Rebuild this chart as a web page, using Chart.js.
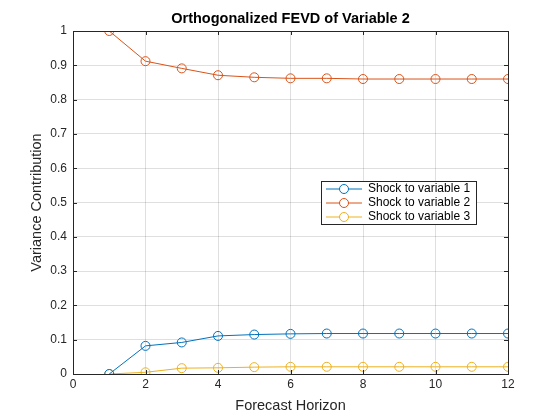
<!DOCTYPE html>
<html>
<head>
<meta charset="utf-8">
<script src="https://cdn.jsdelivr.net/npm/chart.js@4"></script>
<style>
  body { margin: 0; background: #fff; }
  #chart { display: block; }
</style>
</head>
<body>
<canvas id="chart" width="560" height="420"></canvas>
<script>
// Data
var horizons = [1, 2, 3, 4, 5, 6, 7, 8, 9, 10, 11, 12];
var shock1 = [0, 0.082, 0.092, 0.111, 0.115, 0.117, 0.118, 0.118, 0.118, 0.118, 0.118, 0.118];
var shock2 = [1, 0.912, 0.891, 0.871, 0.865, 0.862, 0.862, 0.860, 0.860, 0.860, 0.860, 0.860];
var shock3 = [0, 0.005, 0.017, 0.018, 0.020, 0.021, 0.021, 0.021, 0.021, 0.021, 0.021, 0.021];
var seriesNames = ["Shock to variable 1", "Shock to variable 2", "Shock to variable 3"];
var seriesColors = ["#0072BD", "#D95319", "#EDB120"];
var chartTitle = "Orthogonalized FEVD of Variable 2";

var FONT = "'Liberation Sans', Arial, Helvetica, sans-serif";
var AXIS = "#262626";

function toPoints(values) {
    return values.map(function (v, i) { return { x: horizons[i], y: v }; });
}

function makeDataset(i, values) {
    return {
        label: seriesNames[i],
        data: toPoints(values),
        borderColor: seriesColors[i],
        backgroundColor: "rgba(0,0,0,0)",
        borderWidth: 1,
        pointRadius: 4.5,
        pointBorderWidth: 1,
        pointBackgroundColor: "rgba(0,0,0,0)",
        pointBorderColor: seriesColors[i],
        tension: 0
    };
}

// title over the plot, box around it, inward ticks and a matlab-like legend
var matlabAxes = {
    id: "matlabAxes",
    afterDraw: function (chart) {
        var ctx = chart.ctx;
        var a = chart.chartArea;
        var xs = chart.scales.x;
        var ys = chart.scales.y;
        ctx.save();

        ctx.fillStyle = "#000";
        ctx.font = "bold 14.5px " + FONT;
        ctx.textAlign = "center";
        ctx.textBaseline = "middle";
        ctx.fillText(chartTitle, (a.left + a.right) / 2, a.top - 12);

        ctx.strokeStyle = AXIS;
        ctx.lineWidth = 1;
        ctx.strokeRect(Math.round(a.left) + 0.5, Math.round(a.top) + 0.5,
            Math.round(a.right - a.left), Math.round(a.bottom - a.top));

        ctx.beginPath();
        xs.ticks.forEach(function (t) {
            var px = Math.round(xs.getPixelForValue(t.value)) + 0.5;
            ctx.moveTo(px, a.bottom); ctx.lineTo(px, a.bottom - 4);
            ctx.moveTo(px, a.top); ctx.lineTo(px, a.top + 4);
        });
        ys.ticks.forEach(function (t) {
            var py = Math.round(ys.getPixelForValue(t.value)) + 0.5;
            ctx.moveTo(a.left, py); ctx.lineTo(a.left + 4, py);
            ctx.moveTo(a.right, py); ctx.lineTo(a.right - 4, py);
        });
        ctx.stroke();

        // legend
        var lx = 321, ly = 181, lw = 155, lh = 43, row = 14;
        ctx.fillStyle = "#fff";
        ctx.fillRect(lx, ly, lw, lh);
        ctx.strokeStyle = AXIS;
        ctx.strokeRect(lx + 0.5, ly + 0.5, lw, lh);
        ctx.font = "12px " + FONT;
        ctx.textAlign = "left";
        ctx.textBaseline = "middle";
        seriesNames.forEach(function (name, i) {
            var cy = ly + 8 + i * row;
            ctx.strokeStyle = seriesColors[i];
            ctx.beginPath();
            ctx.moveTo(lx + 5, cy); ctx.lineTo(lx + 41, cy);
            ctx.stroke();
            ctx.beginPath();
            ctx.arc(lx + 23, cy, 4.5, 0, Math.PI * 2);
            ctx.fillStyle = "#fff";
            ctx.fill();
            ctx.stroke();
            ctx.fillStyle = "#000";
            ctx.fillText(name, lx + 47, cy);
        });
        ctx.restore();
    }
};

new Chart(document.getElementById("chart").getContext("2d"), {
    type: "line",
    data: {
        datasets: [
            makeDataset(0, shock1),
            makeDataset(1, shock2),
            makeDataset(2, shock3)
        ]
    },
    options: {
        responsive: false,
        animation: false,
        layout: { padding: { left: 28, right: 52, top: 31, bottom: 5 } },
        plugins: {
            legend: { display: false },
            tooltip: { enabled: false },
            title: { display: false }
        },
        scales: {
            x: {
                type: "linear",
                min: 0,
                max: 12,
                ticks: { stepSize: 2, color: AXIS, font: { family: FONT, size: 12 }, padding: 3 },
                grid: { color: "rgba(38,38,38,0.15)", drawTicks: false },
                border: { display: false },
                title: {
                    display: true,
                    text: "Forecast Horizon",
                    color: AXIS,
                    font: { family: FONT, size: 14.5 },
                    padding: { top: 0, bottom: 0 }
                },
                afterFit: function (scale) { scale.height = 41; }
            },
            y: {
                min: 0,
                max: 1,
                ticks: {
                    stepSize: 0.1,
                    color: AXIS,
                    font: { family: FONT, size: 12 },
                    padding: 6,
                    callback: function (v) { return String(Math.round(v * 10) / 10); }
                },
                grid: { color: "rgba(38,38,38,0.15)", drawTicks: false },
                border: { display: false },
                title: {
                    display: true,
                    text: "Variance Contribution",
                    color: AXIS,
                    font: { family: FONT, size: 14.5 },
                    padding: { top: 0, bottom: 0 }
                },
                afterFit: function (scale) { scale.width = 45; }
            }
        }
    },
    plugins: [matlabAxes]
});
</script>
</body>
</html>
